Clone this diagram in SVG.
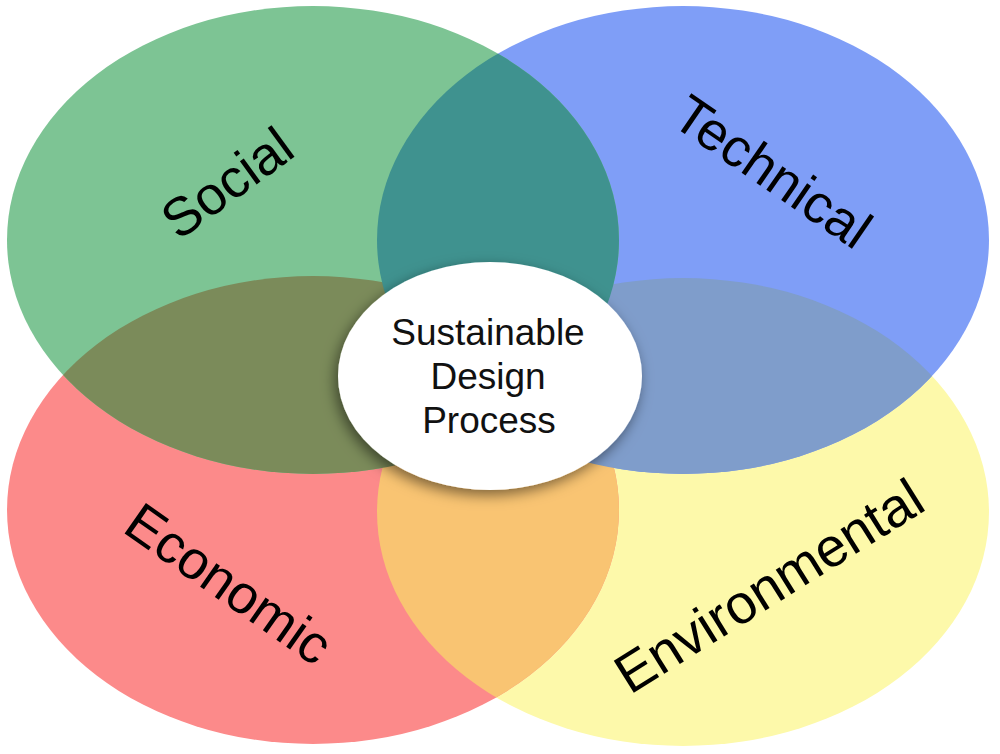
<svg xmlns="http://www.w3.org/2000/svg" width="1000" height="754" viewBox="0 0 1000 754">
  <style>
    .label { font-family: "Liberation Sans", Arial, Helvetica, sans-serif; font-size: 54px; fill: #000; text-anchor: middle; }
    .center { font-family: "Liberation Sans", Arial, Helvetica, sans-serif; font-size: 37px; fill: #111; text-anchor: middle; }
  </style>
  <defs>
    <clipPath id="clipSocial"><ellipse cx="313" cy="240" rx="306" ry="234"/></clipPath>
    <clipPath id="clipTechnical"><ellipse cx="683" cy="240" rx="306" ry="234"/></clipPath>
    <clipPath id="clipEconomic"><ellipse cx="313" cy="510" rx="306" ry="234"/></clipPath>
    <clipPath id="clipEnvironmental"><ellipse cx="683" cy="512" rx="306" ry="234"/></clipPath>
    <filter id="shadow" x="-30%" y="-30%" width="160%" height="160%">
      <feDropShadow dx="-3" dy="5" stdDeviation="7" flood-color="#000" flood-opacity="0.5"/>
    </filter>
  </defs>
  <rect width="1000" height="754" fill="#ffffff"/>

  <g id="environmental">
    <ellipse cx="683" cy="512" rx="306" ry="234" fill="#fdf9aa"/>
  </g>
  <g id="economic">
    <ellipse cx="313" cy="510" rx="306" ry="234" fill="#fc8a8a"/>
  </g>
  <g id="technical">
    <ellipse cx="683" cy="240" rx="306" ry="234" fill="#7f9ef7"/>
  </g>
  <g id="social">
    <ellipse cx="313" cy="240" rx="306" ry="234" fill="#7dc494"/>
  </g>

  <g id="overlaps">
    <g clip-path="url(#clipEnvironmental)">
      <ellipse cx="313" cy="510" rx="306" ry="234" fill="#f9c472"/>
      <ellipse cx="683" cy="240" rx="306" ry="234" fill="#7f9dcb"/>
    </g>
    <g clip-path="url(#clipEconomic)">
      <ellipse cx="313" cy="240" rx="306" ry="234" fill="#7b8b5a"/>
    </g>
    <g clip-path="url(#clipTechnical)">
      <ellipse cx="313" cy="240" rx="306" ry="234" fill="#3f928f"/>
    </g>
  </g>

  <g id="labels">
    <text class="label" transform="translate(238,198) rotate(-36)">Social</text>
    <text class="label" transform="translate(762,187) rotate(34.5)">Technical</text>
    <text class="label" transform="translate(218,599) rotate(35)">Economic</text>
    <text class="label" transform="translate(779,602) rotate(-32)" style="font-size:55px">Environmental</text>
  </g>

  <g id="sustainable-design-process">
    <ellipse cx="490" cy="376" rx="152" ry="114" fill="#ffffff" filter="url(#shadow)"/>
    <text class="center" x="488" y="345">Sustainable</text>
    <text class="center" x="488" y="389">Design</text>
    <text class="center" x="489" y="433">Process</text>
  </g>

  <g id="connectors"/>
</svg>
